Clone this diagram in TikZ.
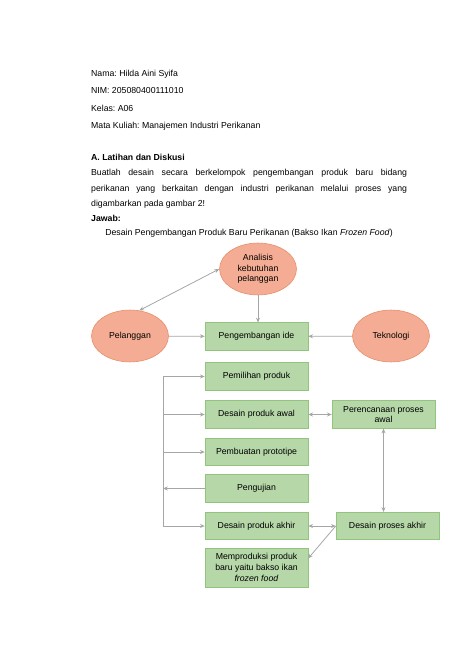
\documentclass[tikz,border=0pt]{standalone}
\usepackage{fontspec}
\setmainfont{Liberation Sans}
\usetikzlibrary{shapes.geometric,arrows.meta}
\definecolor{ovalfill}{HTML}{F4AD94}
\definecolor{ovalline}{HTML}{E8906C}
\definecolor{boxfill}{HTML}{B6D7A8}
\definecolor{boxline}{HTML}{93C47D}
\definecolor{arrowgray}{HTML}{A6A6A6}
\frenchspacing

\begin{document}
\begin{tikzpicture}[x=0.044304cm, y=-0.044304cm,
    font=\fontsize{11pt}{13.5pt}\selectfont,
    textline/.style ={anchor=base west, inner sep=0pt},
    source/.style ={ellipse, draw=ovalline, fill=ovalfill, line width=0.8pt,
        minimum width=3.41cm, minimum height=2.3cm, inner sep=0pt, align=center},
    stage/.style ={rectangle, draw=boxline, fill=boxfill, line width=0.7pt,
        minimum width=4.56cm, minimum height=1.22cm, inner sep=0pt, align=center},
    flow/.style ={draw=arrowgray, line width=1pt, -{Stealth[length=6pt,width=5pt]}},
    twoway/.style ={draw=arrowgray, line width=1pt,
        {Stealth[length=6pt,width=5pt]}-{Stealth[length=6pt,width=5pt]}}]
   \useasboundingbox (0,0) rectangle (474,670);
   % header
   \node[textline] (nama) at (91,77) {Nama: Hilda Aini Syifa};
   \node[textline] (nim) at (91,94) {NIM: 205080400111010};
   \node[textline] (kelas) at (91,111) {Kelas: A06};
   \node[textline] (matkul) at (91,128) {Mata Kuliah: Manajemen Industri Perikanan};
   \node[textline] (judul) at (91,160) {\bfseries A. Latihan dan Diskusi};
   \node[textline] (soal1) at (91,175.3) {\makebox[14cm][s]{Buatlah desain secara berkelompok pengembangan produk baru bidang}};
   \node[textline] (soal2) at (91,191) {\makebox[14cm][s]{perikanan yang berkaitan dengan industri perikanan melalui proses yang}};
   \node[textline] (soal3) at (91,206.5) {digambarkan pada gambar 2!};
   \node[textline] (jawab) at (91,221) {\bfseries Jawab:};
   \node[anchor=base, inner sep=0pt] (caption) at (249,235) {Desain Pengembangan Produk Baru Perikanan (Bakso Ikan \textit{Frozen Food})};
   % diagram
   \node[source] (analisis) at (258,269) {Analisis\\kebutuhan\\pelanggan};
   \node[source] (pelanggan) at (130,336) {Pelanggan};
   \node[source] (teknologi) at (391,336) {Teknologi};
   \node[stage] (ide) at (256.5,336.5) {Pengembangan ide};
   \node[stage] (pemilihan) at (256.5,376.5) {Pemilihan produk};
   \node[stage] (awal) at (256.5,414.5) {Desain produk awal};
   \node[stage] (prototipe) at (256.5,452) {Pembuatan prototipe};
   \node[stage] (pengujian) at (256.5,488.5) {Pengujian};
   \node[stage] (akhir) at (256.5,526) {Desain produk akhir};
   \node[stage, minimum height=1.73cm] (produksi) at (256.5,567.5) {Memproduksi produk\\baru yaitu bakso ikan\\\textit{frozen food}};
   \node[stage] (rencana) at (383.5,414.5) {Perencanaan proses\\awal};
   \node[stage] (proses) at (387.5,526) {Desain proses akhir};
   \coordinate (railtop) at (163,376.5);
   \coordinate (railbottom) at (163,526);
   \draw[twoway] (pelanggan.70) to (analisis.west);
   \draw[flow] (analisis.south) to (analisis.south |- ide.north);
   \draw[flow] (pelanggan) to (ide);
   \draw[flow] (teknologi) to (ide);
   \draw[draw=arrowgray, line width=1pt] (railtop) to (railbottom);
   \draw[flow] (railtop) to (pemilihan);
   \draw[flow] (awal -| railtop) to (awal);
   \draw[flow] (prototipe -| railtop) to (prototipe);
   \draw[flow] (pengujian) to (pengujian -| railtop);
   \draw[flow] (railbottom) to (akhir);
   \draw[twoway] (awal) to (rencana);
   \draw[twoway] (rencana.south) to (rencana.south |- proses.north);
   \draw[twoway] (akhir) to (proses);
   \draw[flow] (proses.west) to (produksi.10);
 \end{tikzpicture}
\end{document}
